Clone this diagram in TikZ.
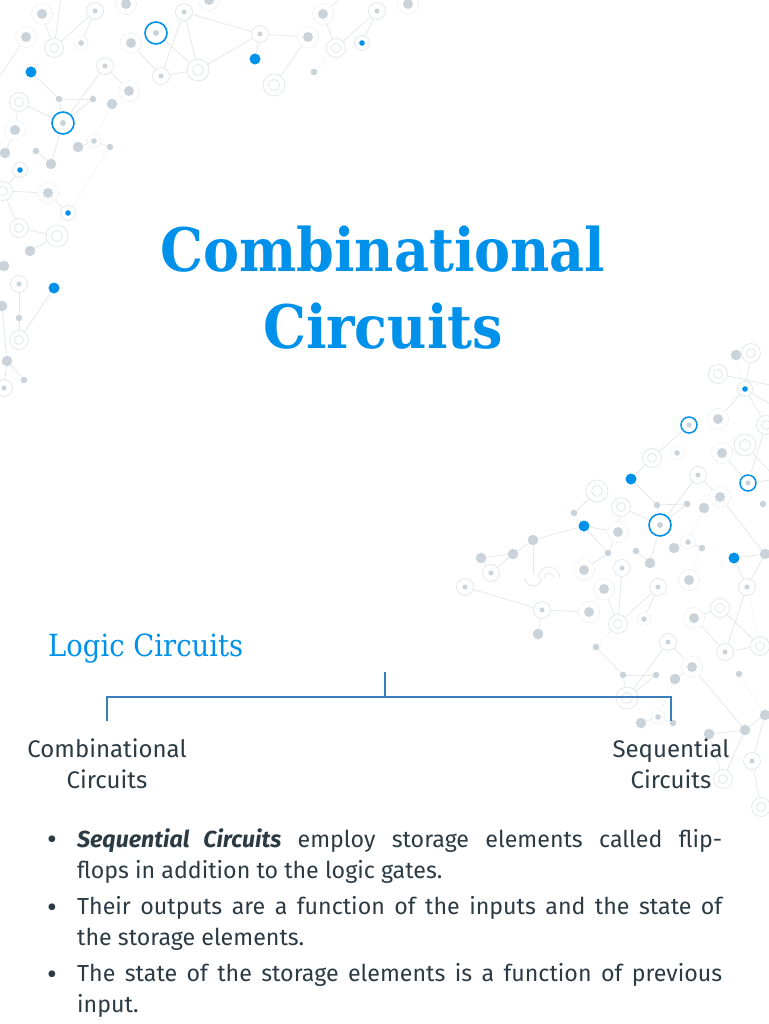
\documentclass[tikz,border=0pt]{standalone}
\usepackage{fontspec}
\setmainfont{Fira Sans}
\newfontfamily\slabfont[FakeStretch=0.9]{DejaVu Serif}
\usetikzlibrary{positioning}
\definecolor{netgray}{HTML}{C9D3D9}
\definecolor{netpale}{HTML}{E4E8EB}
\definecolor{netblue}{HTML}{0091EA}
\definecolor{linkblue}{HTML}{3A7FBB}
\definecolor{inktext}{HTML}{2C3A44}
\tikzset{
  netbase/.style={circle,inner sep=0pt,fill=white,draw=netpale,line width=0.8pt},
  netdot/.style={circle,inner sep=0pt,fill=netgray,minimum size=10.5pt},
  netsmall/.style={circle,inner sep=0pt,fill=netgray,minimum size=6.5pt},
  nethalo/.style={netbase,densely dotted,minimum size=21pt,
    path picture={\fill[netgray] (path picture bounding box.center) circle (5pt);}},
  nethalosm/.style={netbase,densely dotted,minimum size=14pt,
    path picture={\fill[netgray] (path picture bounding box.center) circle (2.8pt);}},
  netring/.style={netbase,minimum size=19pt,
    path picture={\draw[netpale,line width=0.8pt] (path picture bounding box.center) circle (4.5pt);}},
  netringbig/.style={netbase,minimum size=22pt,
    path picture={\draw[netpale,line width=0.8pt] (path picture bounding box.center) circle (5.5pt);}},
  netpoint/.style={netbase,minimum size=17pt,
    path picture={\fill[netgray] (path picture bounding box.center) circle (2.5pt);}},
  netblue/.style={circle,inner sep=0pt,fill=netblue,minimum size=11pt},
  netpin/.style={netbase,minimum size=15pt,
    path picture={\fill[netblue] (path picture bounding box.center) circle (2.8pt);}},
  netloop/.style={circle,inner sep=0pt,fill=white,draw=netblue,line width=1.6pt,minimum size=22pt,
    path picture={\fill[netgray] (path picture bounding box.center) circle (3pt);}},
  netloopsm/.style={circle,inner sep=0pt,fill=white,draw=netblue,line width=1.5pt,minimum size=16pt,
    path picture={\fill[netgray] (path picture bounding box.center) circle (2.6pt);}},
  netline/.style={draw=netpale,line width=0.8pt},
  netdash/.style={draw=netpale,line width=0.7pt,densely dotted},
  treeline/.style={draw=linkblue,line width=2pt},
  titletext/.style={text=netblue,font=\slabfont\bfseries\fontsize{60}{77}\selectfont,align=center},
  headtext/.style={text=netblue,font=\slabfont\fontsize{30.5}{31}\selectfont,anchor=base west},
  leaftext/.style={text=inktext,font=\fontsize{24}{31}\selectfont,align=center},
  bodytext/.style={text=inktext,font=\fontsize{23.2}{31.5}\selectfont,inner sep=0pt,
    text width=645pt,align=justify,anchor=north west},
  bullettext/.style={text=inktext,font=\fontsize{30}{31.5}\selectfont,inner sep=0pt,anchor=base}
}

\begin{document}
\begin{tikzpicture}[x=1pt,y=-1pt]
  \useasboundingbox (0,0) rectangle (768,1024);
  % top left network
  \foreach \nm/\px/\py/\sty in {
    a1/42/14/nethalo,a2/95/11/netpoint,a3/26/37/nethalo,a4/54/48/netring,a5/81/43/nethalosm,
    a6/31/72/netblue,a7/105/66/netpoint,a8/129/91/nethalo,a9/112/104/netdot,a10/59/99/netsmall,
    a11/93/99/netsmall,a12/19/102/netring,a13/63/123/netloop,a14/15/130/nethalo,a15/5/153/netdot,
    a16/36/151/netsmall,a17/51/164/netdot,a18/78/147/netdot,a19/94/141/nethalosm,a20/110/147/netsmall,
    a21/20/170/netpin,a22/3/191/netring,a23/48/193/nethalo,a24/68/213/netpin,a25/19/228/netring,
    a26/57/236/netringbig,a27/30/251/netdot,a28/4/266/netdot,a29/19/284/netpoint,a30/54/288/netblue,
    a31/2/306/netdot,a32/19/318/netsmall,a33/19/340/netring,a34/7/361/netdot,a35/24/380/netsmall,
    a36/4/388/netpoint,
    b1/126/4/nethalo,b2/184/12/netpoint,b3/209/0/nethalo,b4/156/33/netloop,b5/131/43/nethalo,
    b6/161/76/netpoint,b7/198/70/netringbig,b8/260/34/netpoint,b9/308/37/nethalo,b10/255/59/netblue,
    b11/274/85/netringbig,b12/323/14/nethalo,b13/377/11/netpoint,b14/336/48/netring,b15/362/43/netpin,
    b16/314/72/netsmall,b17/408/4/nethalo}
    \node[\sty] (\nm) at (\px,\py) {};
  % right network
  \foreach \nm/\px/\py/\sty in {
    c1/736/355/netdot,c2/751/353/netring,c3/718/374/netring,c4/745/389/netpin,c5/718/419/nethalo,
    c6/766/425/netring,c7/689/425/netloopsm,c8/652/458/netring,c9/677/453/nethalosm,c10/745/445/netringbig,
    c11/722/453/nethalo,c12/748/483/netloopsm,c13/631/479/netblue,c14/698/475/netpoint,c15/597/491/netringbig,
    c16/720/497/nethalo,c17/657/505/netsmall,c18/687/504/netsmall,c19/704/508/netdot,c20/763/504/netsmall,
    c21/621/507/netring,c22/574/513/netsmall,c23/584/526/netblue,c24/660/525/netloop,c25/618/532/nethalo,
    c26/533/540/netdot,c27/513/554/netdot,c28/481/558/netdot,c29/608/553/netsmall,c30/636/551/netsmall,
    c31/650/563/netdot,c32/674/548/netdot,c33/688/542/nethalosm,c34/702/548/netsmall,c35/734/558/netblue,
    c36/765/554/netdot,c37/584/570/nethalo,c38/622/568/netpoint,c39/491/573/netpoint,c40/689/580/nethalo,
    c41/658/587/netpoint,c42/465/587/netpoint,c43/604/589/nethalo,c44/747/587/netpoint,c45/720/608/netring,
    c46/542/610/netpoint,c47/589/612/nethalo,c48/694/618/nethalo,c49/644/619/nethalosm,c50/618/624/netring,
    c51/538/634/netdot,c52/668/642/netpoint,c53/596/647/netsmall,c54/760/646/netring,c55/725/652/netpoint,
    c56/623/675/netsmall,c57/656/675/netsmall,c58/692/667/nethalo,c59/675/679/netdot,c60/739/674/netsmall,
    c61/627/698/netringbig,c62/765/715/netdot,c63/658/717/nethalosm,c64/641/723/netdot,c65/673/723/netsmall,
    c66/709/734/netdot,c67/745/730/netdot,c68/752/761/netpoint,c69/723/779/netring,c70/761/807/netring}
    \node[\sty] (\nm) at (\px,\py) {};
  % free ends at the page edge
  \coordinate (e1) at (61,-2);
  \coordinate (e2) at (0,76);
  \coordinate (e3) at (341,-2);
  \coordinate (e4) at (770,385);
  \coordinate (e5) at (770,404);
  \coordinate (e6) at (770,480);
  \coordinate (e7) at (770,472);
  \coordinate (e8) at (533,574);
  \foreach \from/\to in {
    a1/a4,a2/a4,a2/a5,a3/e2,a4/e1,a6/a10,a10/a11,a10/a13,a11/a13,a7/a13,a7/a8,a12/a13,a12/a14,a14/a15,
    a13/a17,a16/a17,a18/a19,a19/a20,a21/a22,a22/a23,a23/a24,a22/a25,a25/a26,a26/a27,a29/a32,a32/a33,
    a33/a30,a31/a34,a34/a36,a34/a35,
    b2/b6,b2/b7,b2/b8,b6/b7,b5/b6,b4/b7,b7/b8,b8/b9,b8/b10,b9/b11,b12/b14,b13/b14,b13/b15,b12/e3,
    c2/c4,c3/e4,c4/c5,c4/c6,c4/e5,c6/c12,c12/e6,c7/c8,c8/c13,c13/c17,c17/c18,c17/c24,c18/c24,c14/c24,
    c14/c16,c21/c24,c21/c25,c24/c31,c30/c31,c10/c11,c11/c12,c10/e7,c15/c22,c23/c25,c23/c29,c25/c29,
    c16/c36,c32/c33,c33/c34,c35/c36,c26/c23,c26/c27,c27/c28,c26/e8,c28/c39,c27/c39,c37/c29,
    c42/c46,c46/c47,c46/c51,c43/c50,c38/c50,c41/c50,c41/c49,c53/c56,c56/c57,c56/c61,c52/c61,c57/c61,
    c52/c58,c58/c59,c58/c67,c64/c63,c63/c65,c67/c66,c67/c62,c67/c69,c66/c69,c68/c62,c68/c70,
    c35/c44,c44/c55,c45/c48,c48/c55,c45/c54,c55/c54,c36/c44}
    \draw[netline] (\from) -- (\to);
  \foreach \from/\to in {
    a6/a4,a9/a19,a20/a24,b14/b16,c1/c4,c22/c23,c19/c33,c34/c40,c60/c62,c59/c63,c50/c53,c44/c54}
    \draw[netdash] (\from) -- (\to);
  % half rings, the rest is hidden
  \draw[netline] (538,578) arc (180:360:11);
  \draw[netline] (544,578) arc (180:360:5);
  \draw[netline] (525,578) arc (180:0:8);
  % title and diagram
  \node[titletext] (title) at (383,288) {Combinational\\Circuits};
  \node[headtext,inner sep=0pt] (head) at (48,656) {Logic Circuits};
  \node[leaftext] (combi) at (107,764) {Combinational\\Circuits};
  \node[leaftext] (sequ) at (671,764) {Sequential\\Circuits};
  \coordinate (stem) at (385,672);
  \coordinate (fork) at (385,697);
  \coordinate (dropl) at (107,721);
  \coordinate (dropr) at (671,721);
  \draw[treeline] (stem) -- (fork);
  \draw[treeline] (dropl) |- (fork) -| (dropr);
  % bullet list
  \node[bodytext] (item1) at (77,828) {\textbf{\textit{Sequential Circuits}} employ storage elements called flip-\linebreak flops in addition to the logic gates.};
  \node[bodytext] (item2) at (77,896) {Their outputs are a function of the inputs and the state of\linebreak the storage elements.};
  \node[bodytext] (item3) at (77,963) {The state of the storage elements is a function of previous\linebreak input.};
  \node[bullettext] (dot1) at (52,849) {•};
  \node[bullettext] (dot2) at (52,917) {•};
  \node[bullettext] (dot3) at (52,984) {•};
\end{tikzpicture}
\end{document}
